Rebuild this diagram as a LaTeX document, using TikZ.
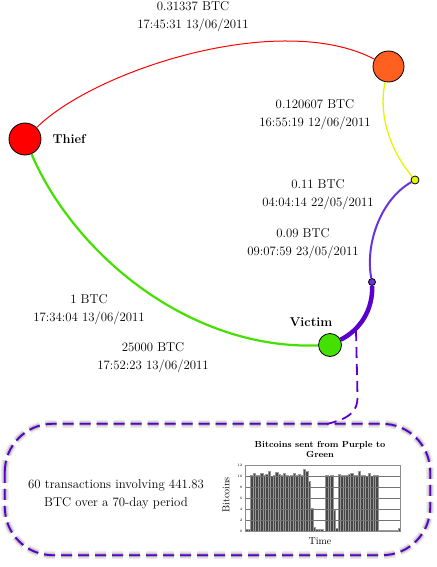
\documentclass[tikz,border=0pt]{standalone}
\definecolor{thiefred}{RGB}{255,0,0}
\definecolor{hoporange}{RGB}{255,96,32}
\definecolor{hopyellow}{RGB}{228,245,0}
\definecolor{edgepurple}{RGB}{104,52,222}
\definecolor{deeppurple}{RGB}{90,0,204}
\definecolor{victimgreen}{RGB}{68,224,0}
\usepackage{tikz}
\usetikzlibrary{shapes,arrows,positioning,calc}

\begin{document}
\begin{tikzpicture}[x=1pt,y=-1pt,
    wallet/.style={circle, draw=black, line width=0.8pt, inner sep=0pt},
    amount/.style={align=center, inner sep=0pt, font=\fontsize{12.8}{18}\selectfont},
    who/.style={inner sep=0pt, font=\fontsize{12.8}{15}\selectfont\bfseries},
    boxdash/.style={draw=deeppurple, line width=1.8pt, dash pattern=on 11pt off 6pt, rounded corners=48pt},
    boxshade/.style={draw=black, dash pattern=on 11pt off 6pt, rounded corners=48pt, shift={(2.5,5)}},
    bar/.style={fill=black!72, draw=black!40, line width=0.3pt},
    gridline/.style={draw=black!55, line width=0.5pt},
    ticklabel/.style={inner sep=0.5pt, font=\fontsize{3.6}{4}\selectfont},
    axislabel/.style={inner sep=0pt, font=\fontsize{10}{12}\selectfont}]
    \useasboundingbox (0,0) rectangle (436,567);

    % wallets
    \node[wallet, fill=thiefred, minimum size=32pt] (thief) at (25,139) {};
    \node[wallet, fill=hoporange, minimum size=31pt] (orange) at (388.5,66.5) {};
    \node[wallet, fill=hopyellow, minimum size=8pt] (yellow) at (415,180) {};
    \node[wallet, fill=edgepurple, minimum size=7pt] (purple) at (372,282) {};
    \node[wallet, fill=victimgreen, minimum size=23pt] (victim) at (330,345) {};
    \node[who, right=11pt of thief] (thieflabel) {Thief};
    \node[who] (victimlabel) at (311,322) {Victim};

    % money flow
    \draw[thiefred, line width=1pt] (thief) .. controls (95,70) and (280,10) .. (orange);
    \draw[hopyellow, line width=1.3pt] (orange) .. controls (378,115) and (390,150) .. (yellow);
    \draw[edgepurple, line width=2pt] (yellow) .. controls (380,200) and (365,245) .. (purple);
    \draw[deeppurple, line width=4.5pt] (purple) .. controls (373,310) and (360,330) .. (victim);
    \draw[victimgreen, line width=2.2pt] (thief) .. controls (75,255) and (190,350) .. (victim);

    \node[amount] (redamount) at (193,17) {0.31337 BTC\\17:45:31 13/06/2011};
    \node[amount] (yellowamount) at (315,114.5) {0.120607 BTC\\16:55:19 12/06/2011};
    \node[amount] (purpleamount) at (318,195) {0.11 BTC\\04:04:14 22/05/2011};
    \node[amount] (deepamount) at (303,243.5) {0.09 BTC\\09:07:59 23/05/2011};
    \node[amount] (greenamount) at (89,309.5) {1 BTC\\17:34:04 13/06/2011};
    \node[amount] (bigamount) at (153,358) {25000 BTC\\17:52:23 13/06/2011};

    % summary box with shadow
    \node[minimum width=425pt, minimum height=131pt, inner sep=0pt] (summary) at (217.5,489.5) {};
    \draw[boxshade, line width=8pt, opacity=0.07] (summary.north west) rectangle (summary.south east);
    \draw[boxshade, line width=5pt, opacity=0.14] (summary.north west) rectangle (summary.south east);
    \draw[boxshade, line width=2.5pt, opacity=0.2] (summary.north west) rectangle (summary.south east);
    \draw[boxdash] (summary.north west) rectangle (summary.south east);
    \coordinate (tap) at (356,330);
    \coordinate (boxtap) at (327,424);
    \draw[deeppurple, line width=1.8pt, dash pattern=on 11pt off 6pt]
        (tap) -- (357.5,396) .. controls (358,414) and (346,419) .. (boxtap);
    \node[amount] (summarytext) at (116,494) {60 transactions involving 441.83\\BTC over a 70-day period};

    % bar chart
    \foreach \h [count=\i from 0] in {0.3,0.3,
        10.1,10.5,10.2,10.1,10.5,10.2,10.3,10.8,10,10.1,10.7,10.3,
        10.1,10.6,10.2,10,10.1,10.6,10.1,10.3,10.2,11.2,10.8,9,
        4.1,0.7,0.4,0.4,0.3,0,10.1,10,10.2,3.8,0.5,
        10.4,10.1,10.2,10.1,10.4,10.5,10.2,10.1,10.9,10.2,10.1,10,10.5,10,10.2,10.1,
        0.2,0.2,0.2,0.2,0.2,0.2,0.2,0.2,0.6}
        \filldraw[bar] (245.5+2.5*\i,531) rectangle ++(2.2,-5.5*\h);
    \foreach \v in {2,4,...,10}
        \draw[gridline] (245,531-5.5*\v) -- (400.5,531-5.5*\v);
    \draw[black!45, line width=0.5pt] (245,465) rectangle (400.5,531);
    \foreach \v in {0,2,...,12}
        \node[ticklabel, left] at (243,531-5.5*\v) {\v};
    \node[align=center, inner sep=0pt, font=\fontsize{8.8}{9.6}\selectfont\bfseries] (charttitle) at (320,449.5) {Bitcoins sent from Purple to\\Green};
    \node[axislabel, rotate=90] (ylabel) at (226,495) {Bitcoins};
    \node[axislabel] (xlabel) at (320,541) {Time};
\end{tikzpicture}
\end{document}
